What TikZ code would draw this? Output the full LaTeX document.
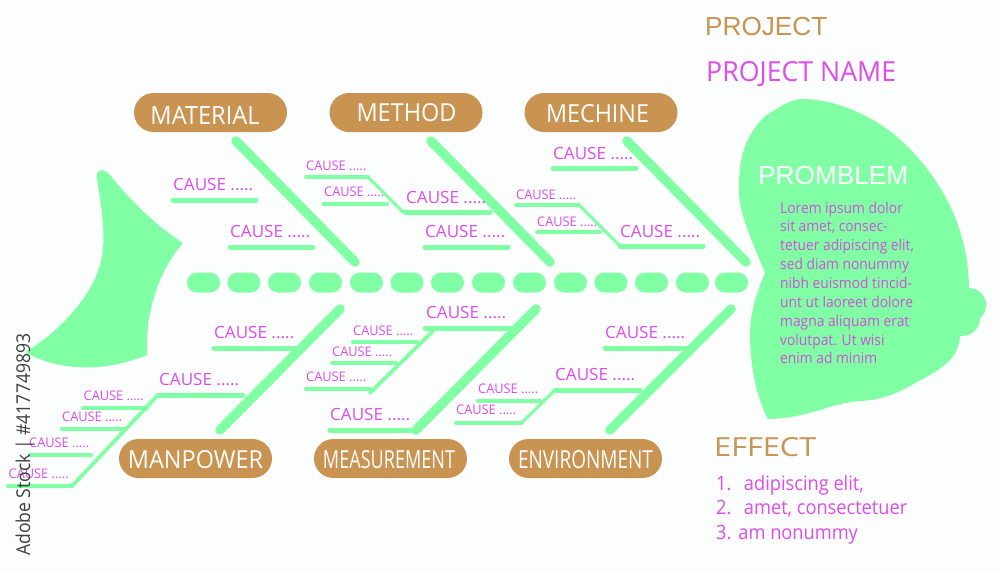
\documentclass[tikz,border=0pt]{standalone}
\usepackage{fontspec}
\usepackage{graphicx}
\setmainfont[FakeStretch=0.92]{Open Sans}
\newfontfamily\arialf{Liberation Sans}
\usetikzlibrary{shapes.misc}
\definecolor{fishgreen}{HTML}{80FFA5}
\definecolor{tan}{HTML}{C99352}
\definecolor{magent}{HTML}{DE4CEB}
\definecolor{lorem}{HTML}{D24FDC}
\definecolor{paper}{HTML}{FBFEFD}
\definecolor{stock}{HTML}{3F3F3F}
\tikzset{
  pillbox/.style={rounded rectangle,fill=tan,minimum width=153pt,minimum height=39pt,inner sep=0pt,outer sep=0pt},
  pilltext/.style={text=white,inner sep=0pt},
  dashpill/.style={rounded rectangle,fill=fishgreen,minimum width=33pt,minimum height=20pt,inner sep=0pt},
  bone/.style={draw=fishgreen,line width=9.5pt,line cap=round},
  twigbig/.style={draw=fishgreen,line width=5pt,line cap=round},
  twigsmall/.style={draw=fishgreen,line width=4pt,line cap=round},
  slant/.style={draw=fishgreen,line width=3pt,line cap=round,line join=round},
  causebig/.style={anchor=base west,inner sep=0pt,text=magent},
  causesmall/.style={anchor=base west,inner sep=0pt,text=magent},
  plain/.style={anchor=base west,inner sep=0pt},
}
\newcommand{\BigCause}{\resizebox{80pt}{12.2pt}{CAUSE .....}}
\newcommand{\SmallCause}{\resizebox{60pt}{9.6pt}{CAUSE .....}}
% name, x, centre y of text
\newcommand{\cb}[3]{\node[causebig] (#1) at (#2,#3+6.1) {\BigCause};}
\newcommand{\cs}[3]{\node[causesmall] (#1) at (#2,#3+4.8) {\SmallCause};}
% name, x1, x2, y : horizontal twig with named ends
\newcommand{\twb}[4]{\coordinate (#1a) at (#2,#4);\coordinate (#1b) at (#3,#4);\draw[twigbig] (#1a) -- (#1b);}
\newcommand{\tws}[4]{\coordinate (#1a) at (#2,#4);\coordinate (#1b) at (#3,#4);\draw[twigsmall] (#1a) -- (#1b);}
\begin{document}
\begin{tikzpicture}[x=1pt,y=-1pt]
\useasboundingbox (0,0) rectangle (1000,571);
\fill[paper] (0,0) rectangle (1000,571);

% tail
\fill[fishgreen] (97,178) .. controls (100,200) and (108,240) .. (100,265)
  .. controls (90,300) and (55,335) .. (25,352)
  .. controls (60,372) and (105,372) .. (147,355)
  .. controls (145,320) and (155,275) .. (183,243)
  .. controls (155,225) and (130,200) .. (110,175)
  .. controls (103,167) and (95,170) .. (97,178) -- cycle;

% head
\fill[fishgreen] (969,305) circle[radius=17pt];
\fill[fishgreen] (962,318) circle[radius=18pt];
\fill[fishgreen] (765,273) .. controls (752,240) and (739,215) .. (739,190)
  .. controls (739,165) and (741,140) .. (765,116)
  .. controls (778,108) and (790,99) .. (802,99)
  .. controls (835,99) and (870,115) .. (895,135)
  .. controls (935,170) and (968,220) .. (969,288)
  .. controls (969,300) and (965,320) .. (960,337)
  .. controls (958,355) and (950,365) .. (917,382)
  .. controls (895,395) and (880,400) .. (860,401)
  .. controls (830,403) and (810,418) .. (768,419)
  .. controls (755,395) and (750,360) .. (750,335)
  .. controls (750,310) and (758,290) .. (765,273) -- cycle;

% spine
\foreach \n/\xa in {1/187,2/227.5,3/268,4/309,5/350,6/390.5,7/431,8/472,9/513,10/554,11/594.5,12/635,13/676,14/715}{
  \node[dashpill] (spine\n) at (\xa+16.5,282.5) {};
}

% category pills
\node[pillbox] (material) at (210.5,112.5) {};
\node[pillbox] (method) at (406,112.5) {};
\node[pillbox] (mechine) at (601,112.5) {};
\node[pillbox] (manpower) at (195.5,458.5) {};
\node[pillbox] (measurement) at (390.5,458.5) {};
\node[pillbox] (environment) at (585.5,458.5) {};
\node[pilltext] (materialt) at (205,115) {\resizebox{109pt}{18pt}{MATERIAL}};
\node[pilltext] (methodt) at (406.5,113) {\resizebox{100pt}{18pt}{METHOD}};
\node[pilltext] (mechinet) at (597.5,114) {\resizebox{103pt}{18pt}{MECHINE}};
\node[pilltext] (manpowert) at (195.5,460) {\resizebox{135pt}{18pt}{MANPOWER}};
\node[pilltext] (measurementt) at (389,460) {\resizebox{132pt}{18pt}{MEASUREMENT}};
\node[pilltext] (environmentt) at (585.5,460) {\resizebox{135pt}{18pt}{ENVIRONMENT}};

% bones
\coordinate (b1a) at (236,141); \coordinate (b1b) at (355,262);
\coordinate (b2a) at (431,141); \coordinate (b2b) at (550,262);
\coordinate (b3a) at (627,141); \coordinate (b3b) at (746,262);
\coordinate (b4a) at (340,309); \coordinate (b4b) at (220,430);
\coordinate (b5a) at (536,309); \coordinate (b5b) at (416,430);
\coordinate (b6a) at (731,309); \coordinate (b6b) at (610,430);
\foreach \i in {1,...,6}{\draw[bone] (b\i a) -- (b\i b);}

% material
\twb{t1}{173}{256}{200} \twb{t2}{230}{313}{247}
\cb{c1}{173}{184} \cb{c2}{230}{231}
% method
\coordinate (d2) at (403,212);
\tws{t3}{306}{368}{177} \tws{t4}{323.5}{387}{204} \twb{t5}{405}{490}{212} \twb{t6}{425}{508}{247}
\draw[slant] (t3b) -- (d2) -- (t5a);
\cs{c3}{306}{166} \cs{c4}{324}{192} \cb{c5}{406}{197} \cb{c6}{425}{231}
% mechine
\twb{t7}{553}{636}{168} \tws{t8}{516}{579}{205} \tws{t9}{537}{600}{232} \twb{t10}{620}{703}{246}
\draw[slant] (t8b) -- (t10a);
\cb{c7}{553}{153} \cs{c8}{516}{194.5} \cs{c9}{537}{221.5} \cb{c10}{620}{231}

% manpower
\twb{t11}{214}{297}{348} \twb{t12}{158}{243}{395}
\coordinate (d3) at (72,486);
\tws{t13}{83}{147}{408} \tws{t14}{62}{125}{428.5} \tws{t15}{30}{91}{455} \tws{t16}{8}{72}{486}
\draw[draw=fishgreen,line width=3.8pt,line cap=round,line join=round] (t16a) -- (d3) -- (t12a);
\cb{c11}{214}{332} \cb{c12}{159}{379} \cs{c13}{83.5}{396} \cs{c14}{62}{417} \cs{c15}{29}{443} \cs{c16}{8.5}{474}

% measurement
\twb{t17}{330}{416}{430} \twb{t18}{425}{510}{328}
\tws{t19}{353}{417}{342} \tws{t20}{332}{396}{363} \tws{t21}{306}{370}{389}
\coordinate (d4) at (433,331); \coordinate (d5) at (370,393);
\draw[draw=fishgreen,line width=3.8pt,line cap=round] (d4) -- (d5);
\cb{c17}{330}{414} \cb{c18}{426}{312} \cs{c19}{353}{331} \cs{c20}{332}{351.5} \cs{c21}{306}{377}

% environment
\twb{t22}{605}{688}{348} \twb{t23}{555}{640}{390}
\tws{t24}{478}{540}{401} \tws{t25}{456}{522}{422.5}
\draw[slant] (t25b) -- (t23a);
\cb{c22}{605}{332} \cb{c23}{555}{374} \cs{c24}{478}{389} \cs{c25}{456}{410}

% titles
\node[plain,text=tan,font=\arialf] (project) at (705,35.5) {\resizebox{122pt}{!}{PROJECT}};
\node[plain,text=magent] (projname) at (706,81) {\resizebox{190pt}{20pt}{PROJECT NAME}};
\node[plain,text=white,font=\arialf] (problem) at (758,184.5) {\resizebox{150pt}{!}{PROMBLEM}};
\node[anchor=north west,inner sep=0pt,text=lorem,font=\fontsize{15}{18.85}\selectfont,align=left] (lorem) at (780,201.5)
 {Lorem ipsum dolor\\sit amet, consec-\\tetuer adipiscing elit,\\sed diam nonummy\\nibh euismod tincid-\\unt ut laoreet dolore\\magna aliquam erat\\volutpat. Ut wisi\\enim ad minim};
\node[plain,text=tan] (effect) at (714,456) {\resizebox{102pt}{19pt}{EFFECT}};
\node[plain,text=magent,font=\fontsize{19.8}{19}\selectfont] (e1) at (716,490) {1.\hspace{12.5pt}adipiscing elit,};
\node[plain,text=magent,font=\fontsize{19.8}{19}\selectfont] (e2) at (716,514.5) {2.\hspace{12.5pt}amet, consectetuer};
\node[plain,text=magent,font=\fontsize{19.8}{19}\selectfont] (e3) at (716,539) {3.\hspace{7pt}am nonummy};

% stock line
\node[anchor=base west,inner sep=0pt,text=stock,rotate=90] (stockline) at (30,556) {\resizebox{222pt}{!}{Adobe Stock | \#417749893}};
\end{tikzpicture}
\end{document}
